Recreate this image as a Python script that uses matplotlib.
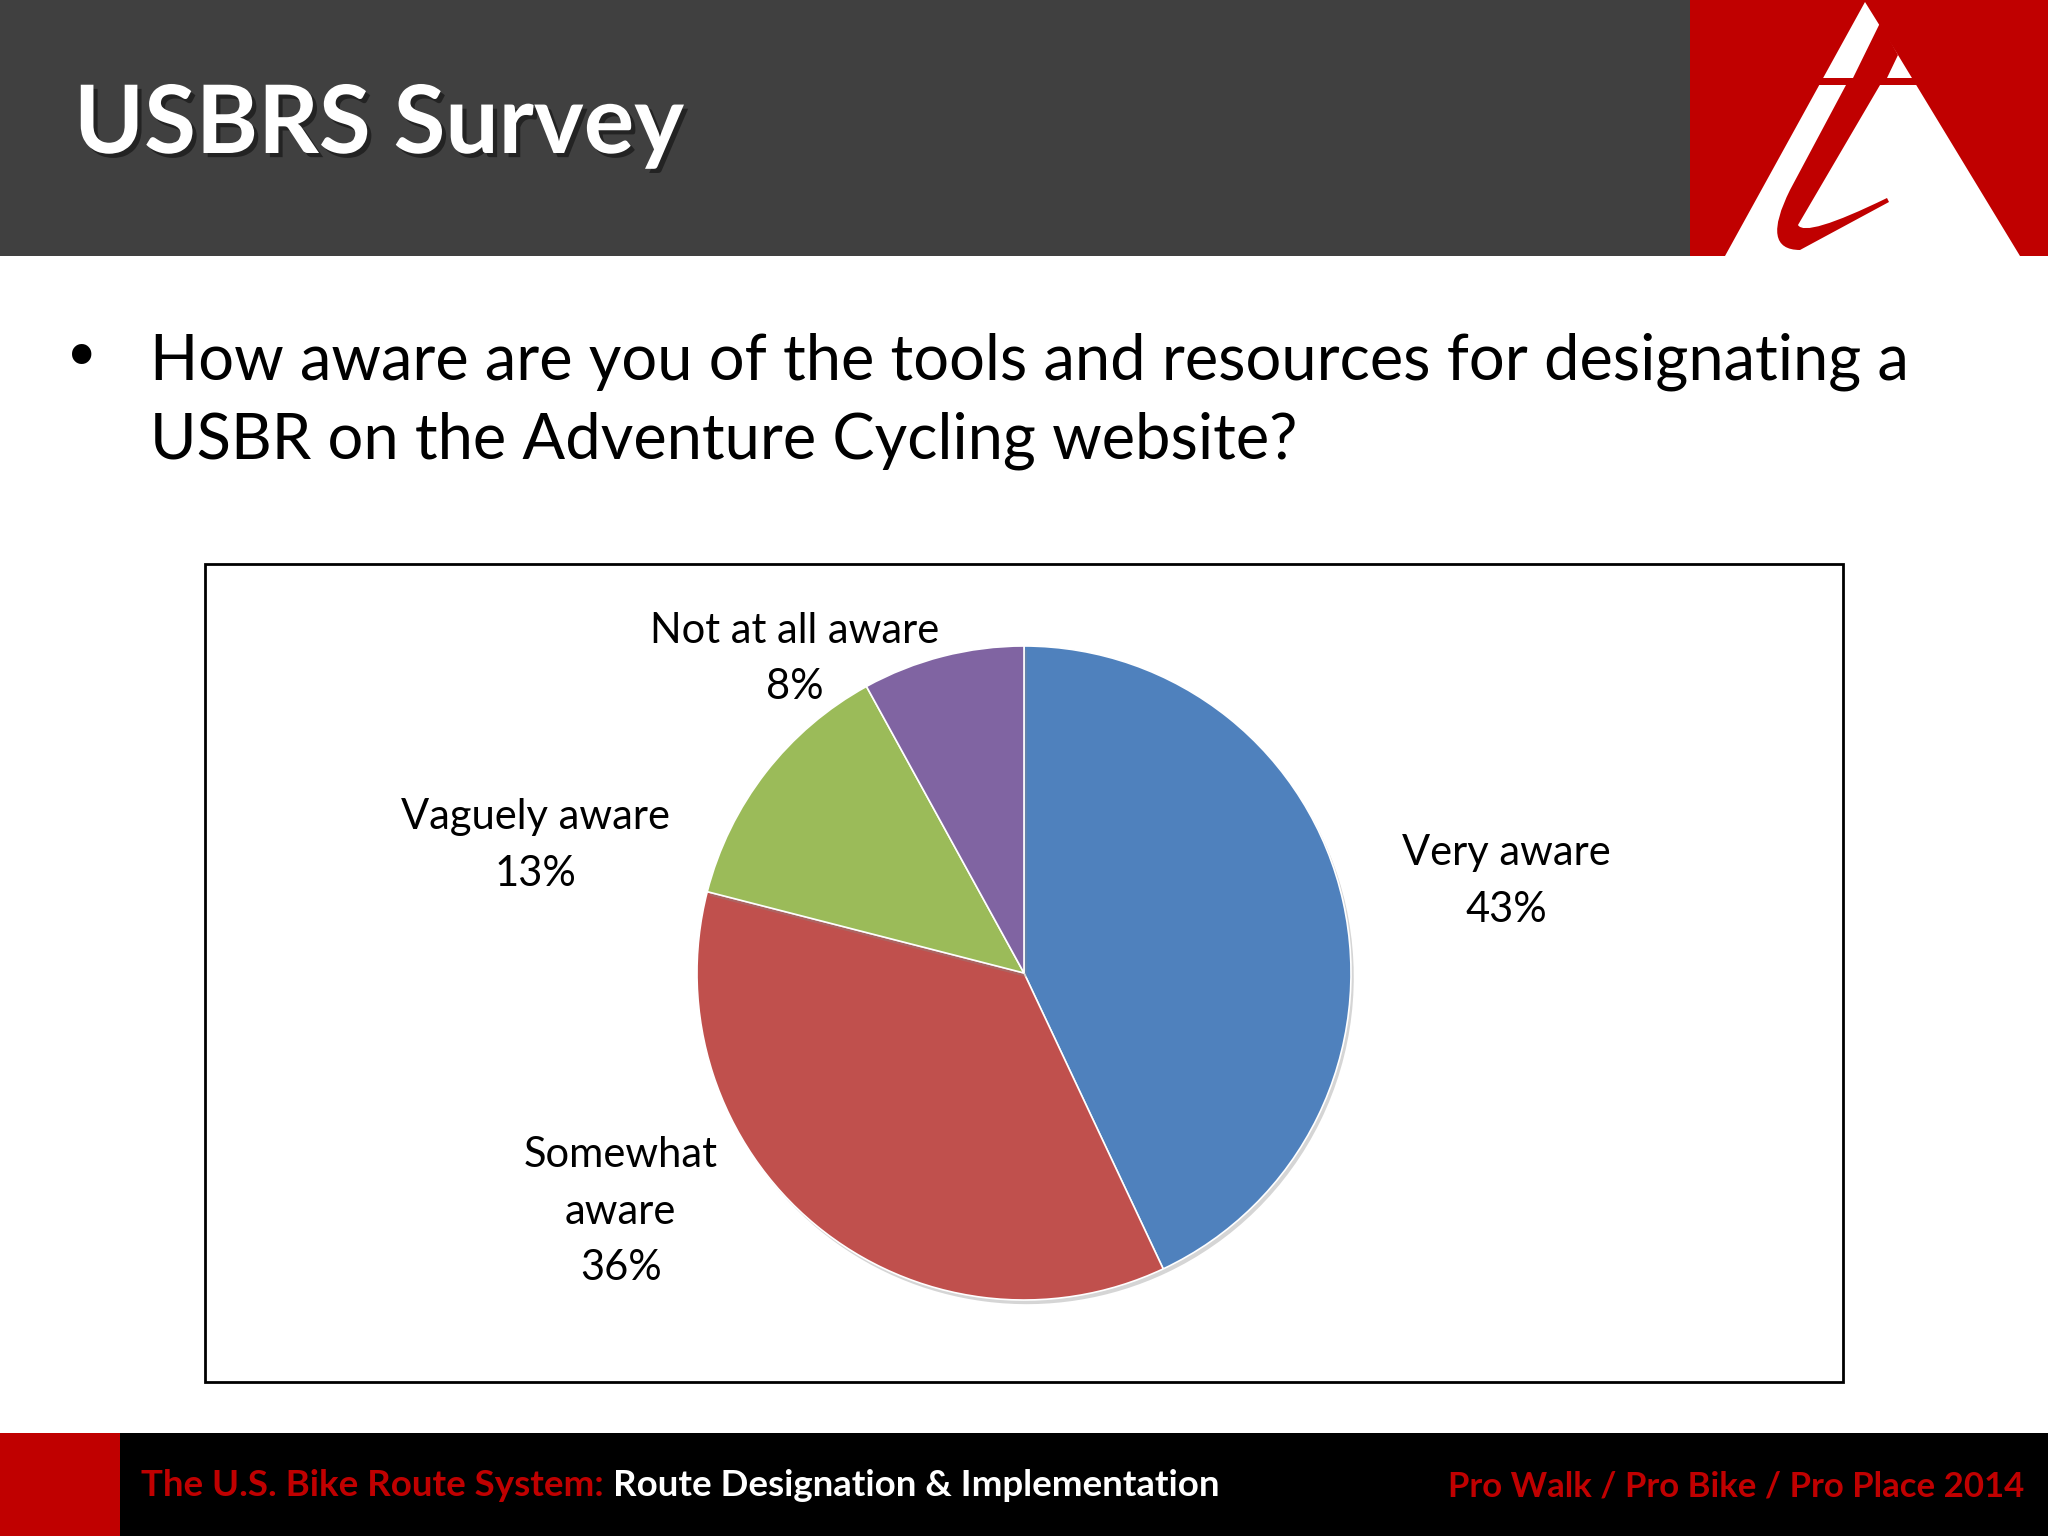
import matplotlib
matplotlib.use("Agg")
import matplotlib.pyplot as plt
from matplotlib.patches import Rectangle, Polygon, PathPatch
from matplotlib.path import Path
import matplotlib.patheffects as pe

# ---------------- data ----------------
categories = ["Very aware", "Somewhat\naware", "Vaguely aware", "Not at all aware"]
values = [43, 36, 13, 8]
pct_labels = ["43%", "36%", "13%", "8%"]
colors = ["#4F81BD", "#C0504D", "#9BBB59", "#8064A2"]

title = "USBRS Survey"
question_lines = ["How aware are you of the tools and resources for designating a",
                  "USBR on the Adventure Cycling website?"]
footer_red = "The U.S. Bike Route System: "
footer_white = "Route Designation & Implementation"
footer_right = "Pro Walk / Pro Bike / Pro Place 2014"

# label positions in pie-radius units (layout)
label_pos = [(1.475, 0.28), (-1.233, -0.73), (-1.493, 0.39), (-0.70, 0.96)]

W, H = 2048, 1536
fig = plt.figure(figsize=(W / 100, H / 100), dpi=100)
fig.patch.set_facecolor("white")

bg = fig.add_axes([0, 0, 1, 1])
bg.set_xlim(0, W)
bg.set_ylim(H, 0)
bg.axis("off")

FONT = "Lato"
RED = "#C00000"

# header
bg.add_patch(Rectangle((0, 0), 1690, 256, facecolor="#404040", edgecolor="none"))
bg.add_patch(Rectangle((1690, 0), W - 1690, 256, facecolor=RED, edgecolor="none"))
# logo
bg.add_patch(Polygon([(1725, 256), (1865, 2), (1898, 55), (2020, 256)], closed=True,
                     facecolor="white", edgecolor="none"))
bg.add_patch(Polygon([(1880, 23), (1898, 55), (1887, 78), (1853, 78)], closed=True,
                     facecolor=RED, edgecolor="none"))
bg.add_patch(Rectangle((1800, 78), 130, 7, facecolor=RED, edgecolor="none"))
verts = [(1846, 85), (1790, 190), (1760, 250), (1800, 250), (1889, 202),
         (1887, 198), (1805, 238), (1798, 225), (1880, 85), (1846, 85)]
codes = [Path.MOVETO, Path.LINETO, Path.CURVE3, Path.CURVE3, Path.LINETO,
         Path.LINETO, Path.CURVE3, Path.CURVE3, Path.LINETO, Path.CLOSEPOLY]
bg.add_patch(PathPatch(Path(verts, codes), facecolor=RED, edgecolor="none"))

# title
bg.text(74, 126, title, color="white", fontsize=68, fontweight="bold", family=FONT,
        ha="left", va="center",
        path_effects=[pe.SimplePatchShadow(offset=(3, -3), shadow_rgbFace="black", alpha=0.45),
                      pe.Normal()])

# bullet question
bg.text(82, 360, "\u2022", fontsize=48, family="DejaVu Sans", ha="center", va="center", color="black")
bg.text(150, 362, question_lines[0], fontsize=45.5, family=FONT, ha="left", va="center", color="black")
bg.text(150, 441, question_lines[1], fontsize=45.5, family=FONT, ha="left", va="center", color="black")

# chart frame
bg.add_patch(Rectangle((205, 564), 1843 - 205, 1382 - 564, facecolor="white",
                       edgecolor="black", linewidth=2))

# footer
bg.add_patch(Rectangle((0, 1433), W, H - 1433, facecolor="black", edgecolor="none"))
bg.add_patch(Rectangle((0, 1433), 120, H - 1433, facecolor=RED, edgecolor="none"))
t1 = bg.text(141, 1486, footer_red, fontsize=26.4, family=FONT, fontweight="bold",
             color=RED, ha="left", va="center")
fig.canvas.draw()
bb = t1.get_window_extent()
x_end = bb.x1 * W / fig.bbox.width
bg.text(x_end, 1486, footer_white, fontsize=26.4, family=FONT, fontweight="bold",
        color="white", ha="left", va="center")
bg.text(2024, 1486, footer_right, fontsize=25, family=FONT, fontweight="bold",
        color=RED, ha="right", va="center")

# pie
cx, cy, r = 1024, 973, 327
ax = fig.add_axes([(cx - r) / W, (H - cy - r) / H, 2 * r / W, 2 * r / H])
wedges, _ = ax.pie(values, colors=colors, startangle=90, counterclock=False, radius=1,
                   wedgeprops=dict(edgecolor="white", linewidth=1.2))
ax.set_xlim(-1, 1)
ax.set_ylim(-1, 1)
ax.set_aspect("equal")
ax.axis("off")
for w in wedges:
    w.set_path_effects([pe.SimplePatchShadow(offset=(2, -3), shadow_rgbFace="#888888", alpha=0.35),
                        pe.Normal()])
for (lx, ly), cat, p in zip(label_pos, categories, pct_labels):
    ax.text(lx, ly, f"{cat}\n{p}", fontsize=30, family=FONT, ha="center", va="center",
            color="black", linespacing=1.6, clip_on=False)

fig.savefig("out.png", dpi=100, facecolor="white")
